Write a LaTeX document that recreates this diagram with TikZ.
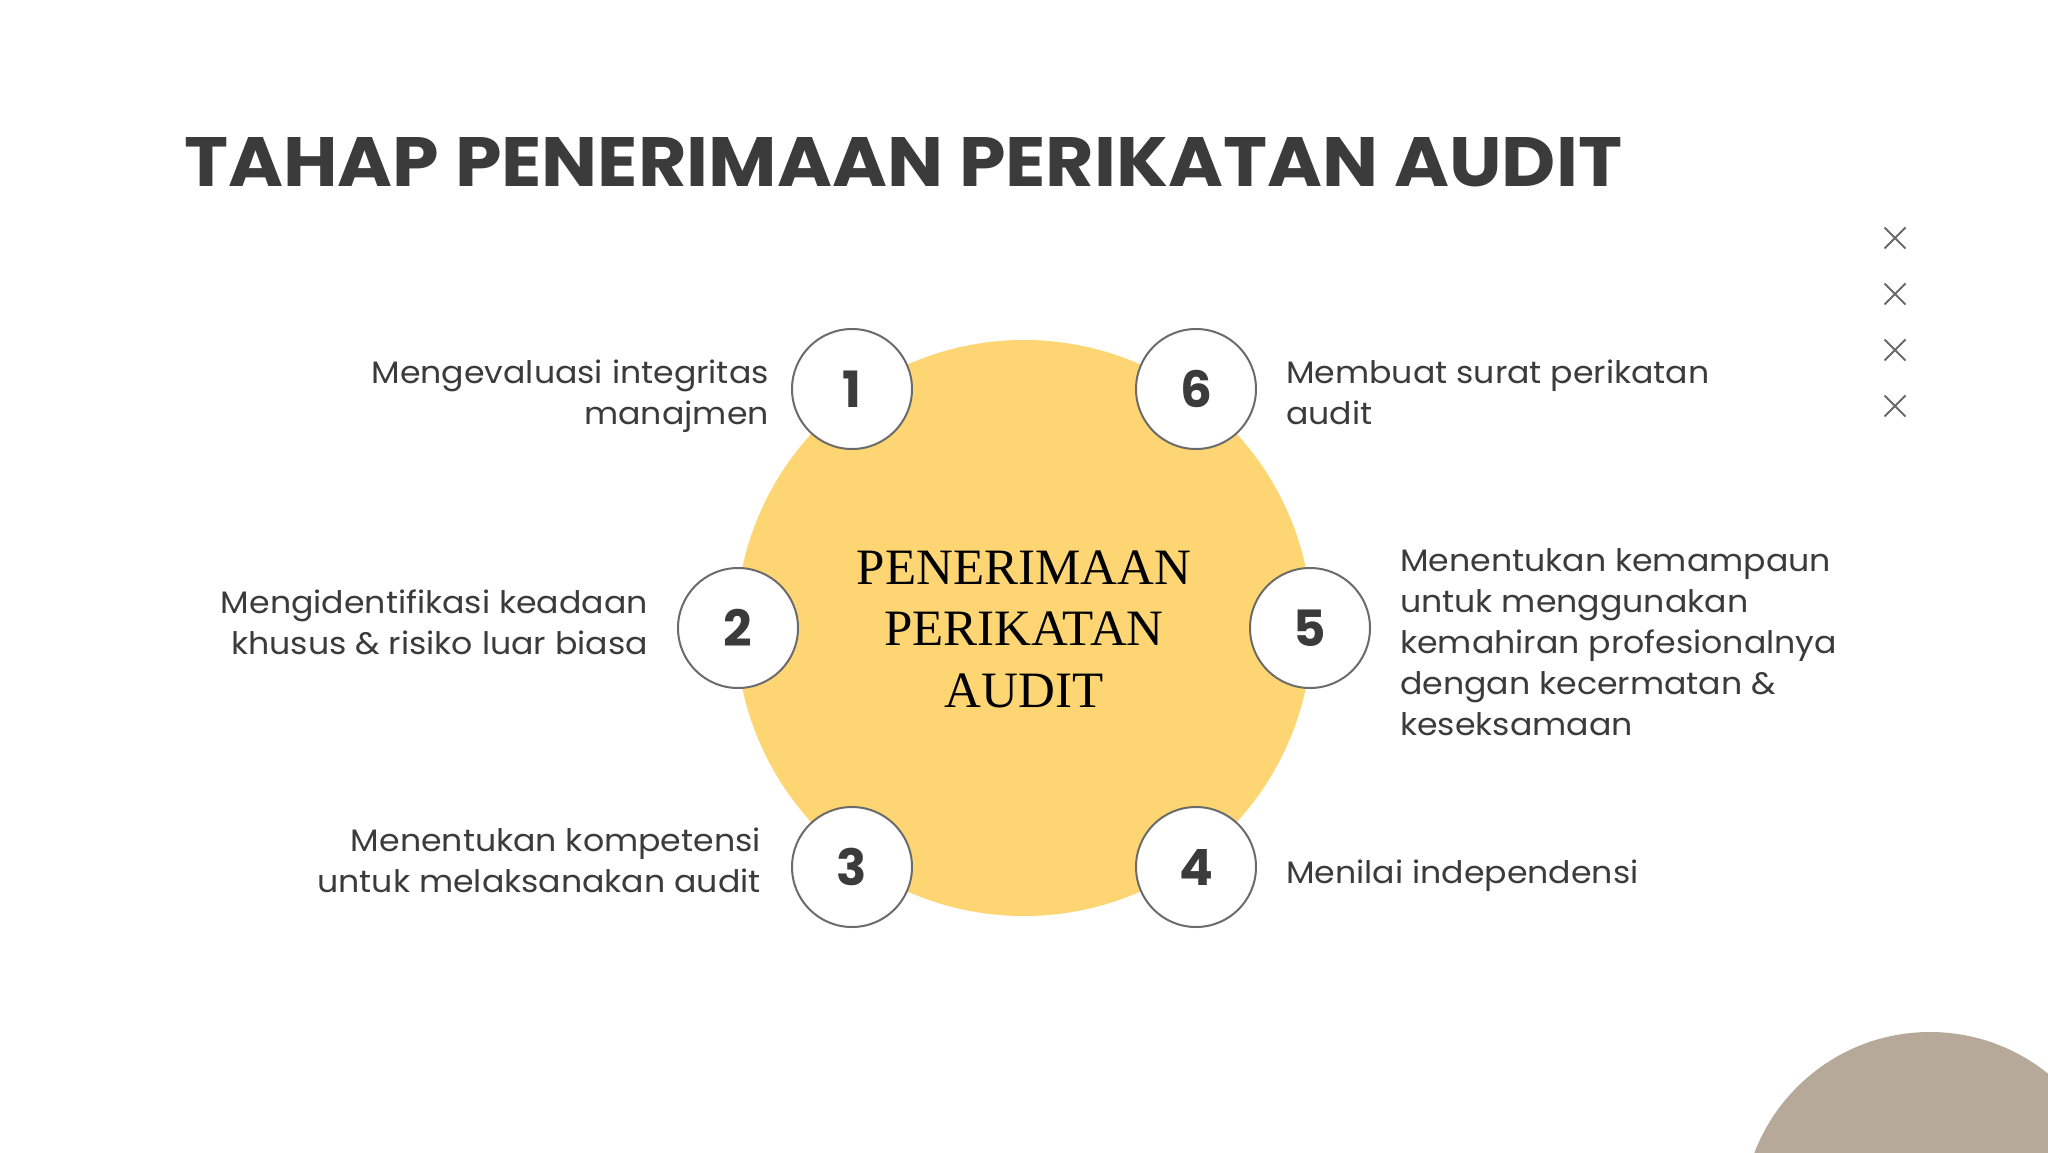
\documentclass[tikz,border=0pt]{standalone}
\usepackage{fontspec}
\setmainfont{Poppins}
\newfontfamily\serifc{Liberation Serif}
\usepackage{graphicx}
\definecolor{txt}{HTML}{3B3B3B}
\definecolor{sun}{HTML}{FDD673}
\definecolor{stone}{HTML}{B7A999}
\definecolor{ring}{HTML}{6B6B6B}
\newcommand{\rlines}[1]{\scalebox{1.07}[1]{\begin{tabular}[t]{@{}r@{}}#1\end{tabular}}}
\newcommand{\llines}[1]{\scalebox{1.07}[1]{\begin{tabular}[t]{@{}l@{}}#1\end{tabular}}}
\newcommand{\clines}[1]{\begin{tabular}[t]{@{}c@{}}#1\end{tabular}}
\tikzset{
  numbox/.style={circle, draw=ring, line width=2pt, fill=white, minimum size=120pt, inner sep=0pt,
    text=txt, font=\fontsize{50}{50}\selectfont\bfseries},
  desc/.style={inner sep=0pt, text=txt, font=\fontsize{31}{41}\selectfont},
  xmark/.style={draw=ring, line width=2pt},
}
\begin{document}
\begin{tikzpicture}[x=1pt,y=-1pt]
\useasboundingbox[fill=white] (0,0) rectangle (2048,1152);
% background shapes
\begin{scope}
\clip (0,0) rectangle (2048,1152);
\fill[stone] (1930,1220) circle[radius=188];
\end{scope}
\fill[sun] (1024,628) circle[radius=288];
% title
\node[anchor=base west, inner sep=0pt, text=txt] (title) at (184,186)
  {\resizebox{1438pt}{49pt}{\fontsize{70}{70}\selectfont\bfseries TAHAP PENERIMAAN PERIKATAN AUDIT}};
% center text
\node[anchor=base, inner sep=0pt, text=black, font=\serifc\fontsize{51}{61.5}\selectfont] (core) at (1024,584)
  {\clines{PENERIMAAN\\PERIKATAN\\AUDIT}};
% number circles
\node[numbox] (n1) at (852,389) {1};
\node[numbox] (n6) at (1196,389) {6};
\node[numbox] (n2) at (738,628) {2};
\node[numbox] (n5) at (1310,628) {5};
\node[numbox] (n3) at (852,867) {3};
\node[numbox] (n4) at (1196,867) {4};
% descriptions
\node[desc, anchor=base east] (t1) at (769,383) {\rlines{Mengevaluasi integritas\\manajmen}};
\node[desc, anchor=base east] (t2) at (648,613) {\rlines{Mengidentifikasi keadaan\\khusus \& risiko luar biasa}};
\node[desc, anchor=base east] (t3) at (761,851) {\rlines{Menentukan kompetensi\\untuk melaksanakan audit}};
\node[desc, anchor=base west] (t6) at (1286,383) {\llines{Membuat surat perikatan\\audit}};
\node[desc, anchor=base west] (t5) at (1400,571) {\llines{Menentukan kemampaun\\untuk menggunakan\\kemahiran profesionalnya\\dengan kecermatan \&\\keseksamaan}};
\node[desc, anchor=base west] (t4) at (1286,883) {\llines{Menilai independensi}};
% x marks
\foreach \yy in {238,294,350,406}{
  \draw[xmark] (1884.5,\yy-10.5) -- (1905.5,\yy+10.5);
  \draw[xmark] (1884.5,\yy+10.5) -- (1905.5,\yy-10.5);
}
\end{tikzpicture}
\end{document}
